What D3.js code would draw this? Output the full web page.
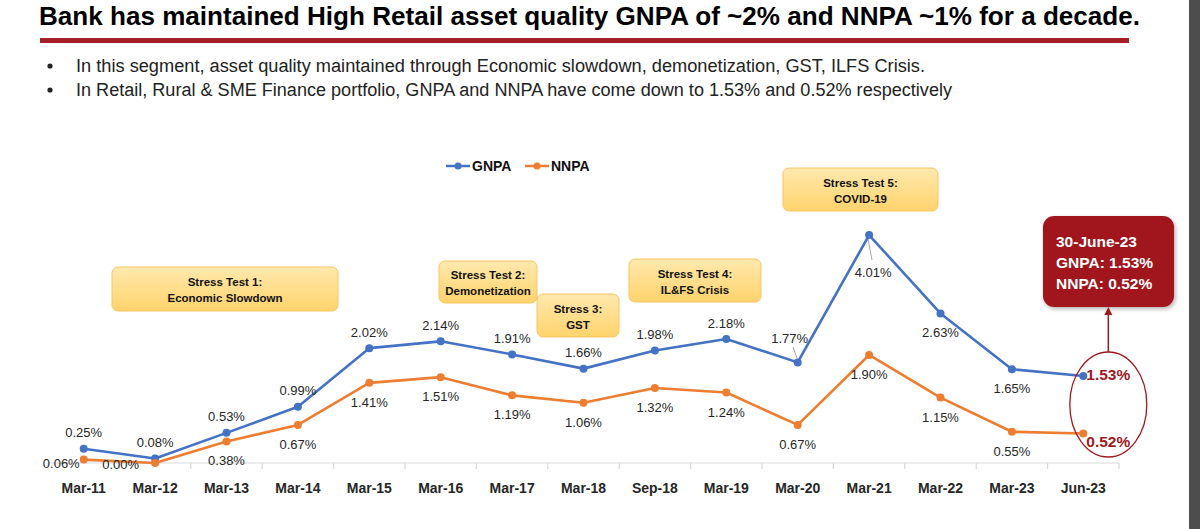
<!DOCTYPE html>
<html>
<head>
<meta charset="utf-8">
<script src="https://cdn.jsdelivr.net/npm/d3@7"></script>
<style>
  html, body { margin: 0; padding: 0; background: #fff; }
  svg { display: block; font-family: "Liberation Sans", Arial, sans-serif; }
</style>
</head>
<body>
<svg id="chart" width="1200" height="529"></svg>
<script>
// chart data
const categories = ["Mar-11", "Mar-12", "Mar-13", "Mar-14", "Mar-15", "Mar-16", "Mar-17", "Mar-18",
                    "Sep-18", "Mar-19", "Mar-20", "Mar-21", "Mar-22", "Mar-23", "Jun-23"];
const gnpa = [0.25, 0.08, 0.53, 0.99, 2.02, 2.14, 1.91, 1.66, 1.98, 2.18, 1.77, 4.01, 2.63, 1.65, 1.53];
const nnpa = [0.06, 0.00, 0.38, 0.67, 1.41, 1.51, 1.19, 1.06, 1.32, 1.24, 0.67, 1.90, 1.15, 0.55, 0.52];

const title = "Bank has maintained High Retail asset quality GNPA of ~2% and NNPA ~1% for a decade.";
const bullets = [
  "In this segment, asset quality maintained through Economic slowdown, demonetization, GST, ILFS Crisis.",
  "In Retail, Rural & SME Finance portfolio, GNPA and NNPA have come down to 1.53% and 0.52% respectively"
];
const stressTests = [
  { lines: ["Stress Test 1:", "Economic Slowdown"] },
  { lines: ["Stress Test 2:", "Demonetization"] },
  { lines: ["Stress 3:", "GST"] },
  { lines: ["Stress Test 4:", "IL&FS Crisis"] },
  { lines: ["Stress Test 5:", "COVID-19"] }
];
const callout = ["30-June-23", "GNPA: 1.53%", "NNPA: 0.52%"];

const BLUE = "#4472C4", ORANGE = "#ED7D31", RED = "#A0191F", TEXT = "#262626";

const svg = d3.select("#chart");

// right side dark bar of the slide window
svg.append("rect").attr("x", 1189).attr("y", 0).attr("width", 11).attr("height", 529).attr("fill", "#4d4d4d");

// title + rule
svg.append("text")
  .attr("x", 39).attr("y", 25)
  .attr("font-family", "'Liberation Sans Narrow', 'Liberation Sans', Arial, sans-serif")
  .attr("font-size", 25).attr("font-weight", "bold").attr("fill", "#000")
  .attr("textLength", 1101).attr("lengthAdjust", "spacingAndGlyphs")
  .text(title);
svg.append("rect").attr("x", 40).attr("y", 38).attr("width", 1089).attr("height", 5).attr("fill", "#A51F28");

// bullets
const bulletWidths = [849, 876];
bullets.forEach((b, i) => {
  const y = 72 + i * 24;
  svg.append("circle").attr("cx", 50).attr("cy", y - 6).attr("r", 2.6).attr("fill", "#222");
  svg.append("text").attr("x", 76).attr("y", y)
    .attr("font-size", 18).attr("fill", "#222")
    .attr("textLength", bulletWidths[i]).attr("lengthAdjust", "spacingAndGlyphs")
    .text(b);
});

// scales
const x = d3.scaleBand().domain(categories).range([48, 1119]);
const y = d3.scaleLinear().domain([0, 4]).range([463, 235.6]);
const cx = c => x(c) + x.bandwidth() / 2;

// axis line and boundary ticks
svg.append("line").attr("x1", 48).attr("x2", 1119).attr("y1", 463).attr("y2", 463)
  .attr("stroke", "#d9d9d9").attr("stroke-width", 1.2);
svg.selectAll(".btick").data(d3.range(categories.length + 1)).enter().append("line")
  .attr("x1", i => 48 + i * x.step()).attr("x2", i => 48 + i * x.step())
  .attr("y1", 463).attr("y2", 469).attr("stroke", "#d9d9d9").attr("stroke-width", 1.2);

const xAxis = svg.append("g").attr("transform", "translate(0,463)")
  .call(d3.axisBottom(x).tickSize(0).tickPadding(20));
xAxis.select(".domain").remove();
xAxis.selectAll("text").attr("font-size", 14).attr("font-weight", "bold").attr("fill", TEXT)
  .attr("font-family", "'Liberation Sans', Arial, sans-serif");

// stress test boxes
const defs = svg.append("defs");
const grad = defs.append("linearGradient").attr("id", "boxGrad").attr("x1", 0).attr("x2", 0).attr("y1", 0).attr("y2", 1);
grad.append("stop").attr("offset", "0%").attr("stop-color", "#FFE9AE");
grad.append("stop").attr("offset", "100%").attr("stop-color", "#FFD36C");

const boxGeom = [
  { x: 112, y: 267, w: 226, h: 44 },
  { x: 439, y: 261, w: 98, h: 42 },
  { x: 537, y: 294, w: 82, h: 43 },
  { x: 629, y: 259, w: 132, h: 43 },
  { x: 783, y: 168, w: 155, h: 43 }
];
stressTests.forEach((s, i) => {
  const g = boxGeom[i];
  svg.append("rect").attr("x", g.x).attr("y", g.y).attr("width", g.w).attr("height", g.h)
    .attr("rx", 6).attr("fill", "url(#boxGrad)").attr("stroke", "#F9C465").attr("stroke-width", 1);
  s.lines.forEach((t, j) => {
    svg.append("text").attr("x", g.x + g.w / 2).attr("y", g.y + g.h / 2 - 3 + j * 16)
      .attr("text-anchor", "middle").attr("font-size", 11.5).attr("font-weight", "bold").attr("fill", "#111")
      .text(t);
  });
});

// legend
const legend = [{ name: "GNPA", color: BLUE, x: 446 }, { name: "NNPA", color: ORANGE, x: 525 }];
legend.forEach(l => {
  svg.append("line").attr("x1", l.x).attr("x2", l.x + 24).attr("y1", 166).attr("y2", 166)
    .attr("stroke", l.color).attr("stroke-width", 2.5);
  svg.append("circle").attr("cx", l.x + 12).attr("cy", 166).attr("r", 3.5).attr("fill", l.color);
  svg.append("text").attr("x", l.x + 26).attr("y", 171).attr("font-size", 14).attr("font-weight", "bold")
    .attr("fill", "#111").text(l.name);
});

// leader lines for two labels
svg.append("line").attr("x1", 793).attr("y1", 347).attr("x2", 797).attr("y2", 358).attr("stroke", "#a6a6a6");
svg.append("line").attr("x1", 868).attr("y1", 239).attr("x2", 872).attr("y2", 260).attr("stroke", "#a6a6a6");

// series lines + markers
const line = d3.line().x(d => cx(d.c)).y(d => y(d.v));
const series = [
  { name: "GNPA", values: gnpa, color: BLUE },
  { name: "NNPA", values: nnpa, color: ORANGE }
];
series.forEach(s => {
  const pts = categories.map((c, i) => ({ c, v: s.values[i] }));
  svg.append("path").datum(pts).attr("d", line).attr("fill", "none")
    .attr("stroke", s.color).attr("stroke-width", 2.6).attr("stroke-linejoin", "round");
  svg.selectAll(null).data(pts).enter().append("circle")
    .attr("cx", d => cx(d.c)).attr("cy", d => y(d.v)).attr("r", 4).attr("fill", s.color);
});

// data labels: placement per category (offsets relative to the point)
const fmt = v => v.toFixed(2) + "%";
const gnpaPlace = { "Mar-20": [-8, -24], "Mar-21": [4, 37], "Mar-22": [0, 19], "Mar-23": [0, 19] };
const nnpaPlace = { "Mar-11": ["end", -4, 4], "Mar-12": ["end", -16, 1] };

categories.forEach((c, i) => {
  if (c === "Jun-23") return;
  const gp = gnpaPlace[c] || [0, -16];
  svg.append("text").attr("x", cx(c) + gp[0]).attr("y", y(gnpa[i]) + gp[1] + 4.5)
    .attr("text-anchor", "middle").attr("font-size", 13).attr("fill", TEXT).text(fmt(gnpa[i]));
  const np = nnpaPlace[c];
  const t = svg.append("text").attr("font-size", 13).attr("fill", TEXT).text(fmt(nnpa[i]));
  if (np) {
    t.attr("text-anchor", np[0]).attr("x", cx(c) + np[1]).attr("y", y(nnpa[i]) + np[2] + 4.5);
  } else {
    t.attr("text-anchor", "middle").attr("x", cx(c)).attr("y", y(nnpa[i]) + 19.5 + 4.5);
  }
});

// last point highlighted in red
const last = categories.length - 1;
const lc = categories[last];
svg.append("text").attr("x", cx(lc) + 3).attr("y", y(gnpa[last]) + 3.5)
  .attr("font-size", 15.5).attr("font-weight", "bold").attr("fill", RED).text(fmt(gnpa[last]));
svg.append("text").attr("x", cx(lc) + 3).attr("y", y(nnpa[last]) + 13.5)
  .attr("font-size", 15.5).attr("font-weight", "bold").attr("fill", RED).text(fmt(nnpa[last]));

// ellipse around the last values
const ex = cx(lc) + 25;
svg.append("ellipse").attr("cx", ex).attr("cy", 404.5).attr("rx", 38.5).attr("ry", 52.5)
  .attr("fill", "none").attr("stroke", RED).attr("stroke-width", 1.3);

// callout box with arrow
const filt = defs.append("filter").attr("id", "shadow").attr("x", "-20%").attr("y", "-20%").attr("width", "140%").attr("height", "140%");
filt.append("feDropShadow").attr("dx", 1.5).attr("dy", 2).attr("stdDeviation", 2).attr("flood-color", "#000").attr("flood-opacity", 0.3);
svg.append("rect").attr("x", 1043).attr("y", 216).attr("width", 131).attr("height", 91).attr("rx", 11)
  .attr("fill", RED).attr("filter", "url(#shadow)");
callout.forEach((t, i) => {
  svg.append("text").attr("x", 1056).attr("y", 247 + i * 21)
    .attr("font-size", 15.5).attr("font-weight", "bold").attr("fill", "#fff").text(t);
});
svg.append("line").attr("x1", ex).attr("x2", ex).attr("y1", 352).attr("y2", 313)
  .attr("stroke", RED).attr("stroke-width", 1.5);
svg.append("path").attr("d", `M${ex - 4},315 L${ex},307 L${ex + 4},315 Z`).attr("fill", RED);
</script>
</body>
</html>
